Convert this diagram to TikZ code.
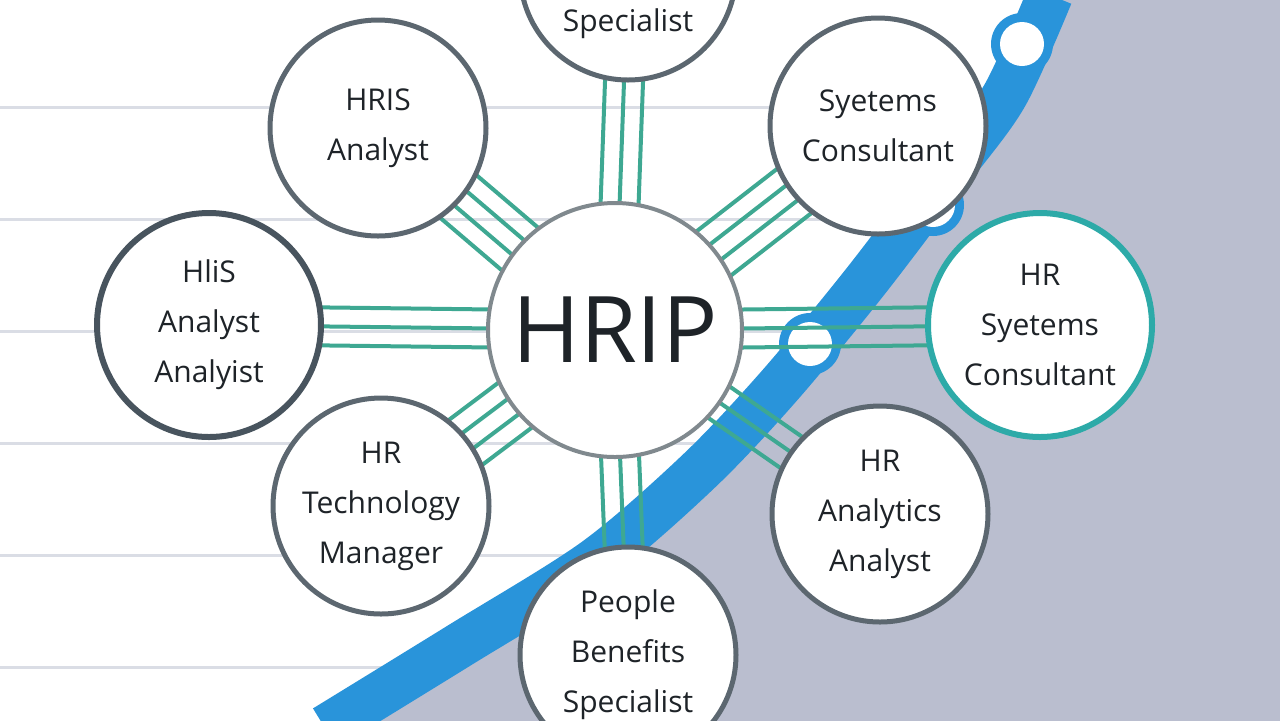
\documentclass[tikz,border=0pt]{standalone}
\usepackage{fontspec}
\setmainfont{Open Sans}
\usetikzlibrary{calc}
\definecolor{slate}{RGB}{186,190,207}
\definecolor{bandblue}{RGB}{41,148,218}
\definecolor{rulegray}{RGB}{218,221,229}
\definecolor{ring}{RGB}{92,103,112}
\definecolor{darkring}{RGB}{72,84,94}
\definecolor{tealring}{RGB}{45,170,168}
\definecolor{hubring}{RGB}{128,137,142}
\definecolor{linkteal}{RGB}{62,168,146}
\definecolor{ink}{RGB}{30,35,40}
\pgfdeclarelayer{bg}
\pgfdeclarelayer{links}
\pgfsetlayers{bg,links,main}
\begin{document}
\begin{tikzpicture}[x=0.5pt,y=-0.5pt,
    role/.style={circle,draw=ring,line width=2.5pt,fill=white,minimum size=108pt,
      inner sep=0pt,align=center,text=ink,font=\fontsize{15}{25}\selectfont},
    roletext/.style={text=ink,inner sep=0pt,font=\fontsize{15}{25}\selectfont},
    link/.style={draw=linkteal,line width=2pt},
    ruleline/.style={draw=rulegray,line width=1.5pt}]
\useasboundingbox (0,0) rectangle (1280,720);

% nodes
\node[role] (spec) at (628,-28) {};
\node[roletext] (spec-t) at (628,24) {Specialist};
\node[role] (hris) at (378,128) {HRIS\\Analyst};
\node[role] (sysc) at (878,126) {Syetems\\Consultant};
\node[role,draw=darkring,line width=3pt,minimum size=112pt] (hlis) at (209,325) {HliS\\Analyst\\Analyist};
\node[role,draw=hubring,line width=2pt,minimum size=127pt,font=\fontsize{46}{50}\selectfont] (hub) at (615,330) {HRIP};
\node[role,draw=tealring,line width=3pt,minimum size=112pt] (hrsc) at (1040,325) {HR\\Syetems\\Consultant};
\node[role] (tech) at (381,506) {HR\\Technology\\Manager};
\node[role] (anal) at (880,514) {HR\\Analytics\\Analyst};
\node[role] (ppl) at (628,655) {People\\Benefits\\Specialist};

% connectors
\begin{pgfonlayer}{links}
\foreach \n/\k in {spec/3,hris/4,sysc/4,hlis/3,hrsc/3,tech/4,anal/3,ppl/3}{
  \ifnum\k=3 \def\offs{-9.5pt,0pt,9.5pt}\else\def\offs{-14pt,-4.7pt,4.7pt,14pt}\fi
  \foreach \off in \offs
    \draw[link] ($(hub.center)!\off!90:(\n.center)$) -- ($(\n.center)!\off!-90:(hub.center)$);
}
\end{pgfonlayer}

% background
\begin{pgfonlayer}{bg}
\foreach \y in {107,219,331,443,555,667}
  \draw[ruleline] (0,\y) -- (1100,\y);
\fill[slate] plot[smooth] coordinates {(325,728) (460,645) (596,560) (700,470) (780,385) (865,282) (950,170) (1005,95) (1050,-5)}
  -- (1290,-5) -- (1290,728) -- cycle;
\draw[bandblue,line width=23pt] plot[smooth] coordinates {(325,728) (460,645) (596,560) (700,470) (780,385) (865,282) (950,170) (1005,95) (1050,-5)};
\foreach \x/\y in {1022/44,933/205,810/344}{
  \fill[bandblue] (\x,\y) circle (15.5pt);
  \fill[white] (\x,\y) circle (11pt);
}
\end{pgfonlayer}
\end{tikzpicture}
\end{document}
